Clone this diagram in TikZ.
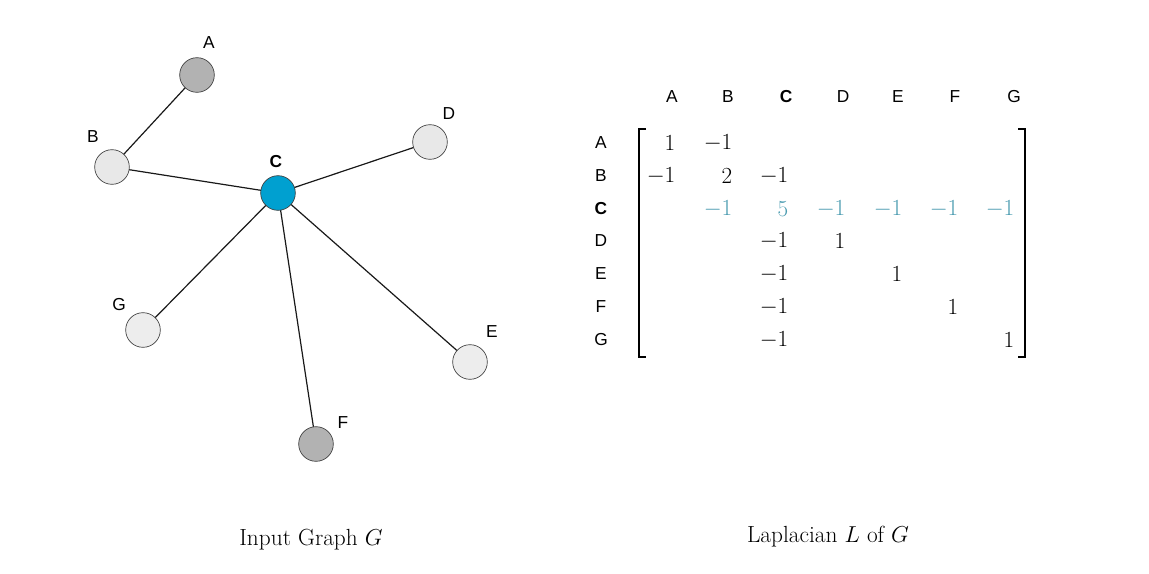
\documentclass[tikz,border=0pt]{standalone}
\usepackage{fontspec}
\setsansfont{Liberation Sans}
\begin{document}
\begin{tikzpicture}[x=0.75pt,y=-0.75pt]
\useasboundingbox (0,0) rectangle (1149,574);
\definecolor{teal2}{HTML}{4A9BB0}
\tikzset{
 vx/.style={circle,draw=black!75,line width=0.5pt,minimum size=26pt,inner sep=0},
 lbl/.style={font=\sffamily\fontsize{13}{15}\selectfont},
 blbl/.style={font=\sffamily\bfseries\fontsize{13}{15}\selectfont},
 ent/.style={font=\fontsize{17}{19}\selectfont,anchor=east},
 edge/.style={draw=black!90,line width=0.9pt}
}
\coordinate (pA) at (197,75);
\coordinate (pB) at (112,167);
\coordinate (pC) at (278,193);
\coordinate (pD) at (430,142);
\coordinate (pG) at (143,330);
\coordinate (pE) at (470,362);
\coordinate (pF) at (316,444);
\draw[edge] (pA)--(pB) (pB)--(pC) (pC)--(pD) (pC)--(pG) (pC)--(pE) (pC)--(pF);
\node[vx,fill=black!30] (A) at (pA) {};
\node[vx,fill=black!9] (B) at (pB) {};
\node[vx,fill={rgb,255:red,0;green,160;blue,208}] (C) at (pC) {};
\node[vx,fill=black!9] (D) at (pD) {};
\node[vx,fill=black!7] (G) at (pG) {};
\node[vx,fill=black!7] (E) at (pE) {};
\node[vx,fill=black!30] (F) at (pF) {};
\node[lbl] (lA) at (209,43) {A};
\node[lbl] (lB) at (93,137) {B};
\node[blbl] (lC) at (276,162) {C};
\node[lbl] (lD) at (449,114) {D};
\node[lbl] (lG) at (119,305) {G};
\node[lbl] (lE) at (492,332) {E};
\node[lbl] (lF) at (343,423) {F};
\foreach \t/\x in {A/672,B/728,D/843,E/898,F/955,G/1014}
  \node[lbl] (h\t) at (\x,97) {\t};
\node[blbl] (hC) at (786,97) {C};
\foreach \t/\y in {A/143,B/176,D/241,E/274,F/307,G/340}
  \node[lbl] (r\t) at (601,\y) {\t};
\node[blbl] (rC) at (601,209) {C};
\draw[line width=0.8pt] (646,129)--(639,129)--(639,357)--(646,357);
\draw[line width=0.8pt] (1018,129)--(1025,129)--(1025,357)--(1018,357);
\node[ent] at (680,143) {$1$};
\node[ent] at (737,143) {$-1$};
\node[ent] at (680,176) {$-1$};
\node[ent] at (737,176) {$2$};
\node[ent] at (793,176) {$-1$};
\foreach \x in {737,850,907,963,1019}
  \node[ent,text=teal2] at (\x,209) {$-1$};
\node[ent,text=teal2] at (793,209) {$5$};
\foreach \y in {241,274,307,340} \node[ent] at (793,\y) {$-1$};
\node[ent] at (850,241) {$1$};
\node[ent] at (907,274) {$1$};
\node[ent] at (963,307) {$1$};
\node[ent] at (1019,340) {$1$};
\node[font=\fontsize{17.5}{20}\selectfont] (cap1) at (311,540) {Input Graph $G$};
\node[font=\fontsize{17.5}{20}\selectfont] (cap2) at (828,537) {Laplacian $L$ of $G$};
\end{tikzpicture}
\end{document}
